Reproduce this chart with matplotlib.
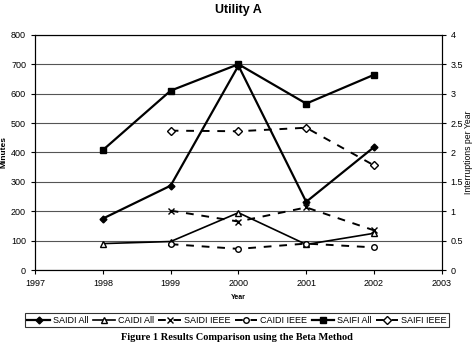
import matplotlib
matplotlib.use('Agg')
import matplotlib.pyplot as plt

plt.rcParams['font.family'] = ['Liberation Sans', 'DejaVu Sans']

years = [1998, 1999, 2000, 2001, 2002]
years_ieee = [1999, 2000, 2001, 2002]

saidi_all = [175, 287, 695, 232, 418]
caidi_all = [90, 97, 195, 87, 125]
saidi_ieee = [202, 165, 213, 135]
caidi_ieee = [88, 72, 90, 77]
saifi_all = [2.04, 3.05, 3.5, 2.83, 3.32]
saifi_ieee = [2.37, 2.36, 2.42, 1.78]

fig = plt.figure(figsize=(4.74, 3.48), dpi=100)
ax = fig.add_axes([0.074, 0.224, 0.858, 0.676])
ax2 = ax.twinx()

l1, = ax.plot(years, saidi_all, '-', color='black', lw=1.6, marker='D', ms=3.5, mfc='black')
l2, = ax.plot(years, caidi_all, '-', color='black', lw=1.2, marker='^', ms=4, mfc='white')
l3, = ax.plot(years_ieee, saidi_ieee, '--', color='black', lw=1.4, marker='x', ms=5, dashes=(4, 4))
l4, = ax.plot(years_ieee, caidi_ieee, '--', color='black', lw=1.4, marker='o', ms=4, mfc='white', dashes=(4, 4))
l5, = ax2.plot(years, saifi_all, '-', color='black', lw=1.6, marker='s', ms=5, mfc='black')
l6, = ax2.plot(years_ieee, saifi_ieee, '--', color='black', lw=1.4, marker='D', ms=4, mfc='white', dashes=(4, 4))

ax.set_xlim(1997, 2003)
ax.set_ylim(0, 800)
ax.set_yticks(range(0, 801, 100))
ax.set_xticks(range(1997, 2004))
ax2.set_ylim(0, 4)
ax2.set_yticks([0, 0.5, 1, 1.5, 2, 2.5, 3, 3.5, 4])
ax2.set_yticklabels(['0', '0.5', '1', '1.5', '2', '2.5', '3', '3.5', '4'])

ax.grid(axis='y', color='#555555', lw=0.8)
ax.set_axisbelow(True)
for a in (ax, ax2):
    a.tick_params(labelsize=6.5, length=3, width=0.8)
    for s in a.spines.values():
        s.set_linewidth(0.8)

ax.set_title('Utility A', fontsize=9, fontweight='bold', pad=16)
ax.set_xlabel('Year', fontsize=5, fontweight='bold')
ax.set_ylabel('Minutes', fontsize=6, fontweight='bold')
ax.yaxis.set_label_coords(-0.068, 0.5)
ax2.set_ylabel('Interruptions per Year', fontsize=6.2)
ax2.yaxis.set_label_coords(1.054, 0.5)

leg = fig.legend([l1, l2, l3, l4, l5, l6],
                 ['SAIDI All', 'CAIDI All', 'SAIDI IEEE', 'CAIDI IEEE', 'SAIFI All', 'SAIFI IEEE'],
                 loc='center', bbox_to_anchor=(0.5, 0.08), ncol=6, fontsize=6.5,
                 frameon=True, fancybox=False, edgecolor='black', handlelength=2.5,
                 handletextpad=0.3, columnspacing=0.5, borderpad=0.3)
leg.get_frame().set_linewidth(0.8)

fig.text(0.5, 0.022, 'Figure 1 Results Comparison using the Beta Method',
         ha='center', fontsize=7.5, fontweight='bold', family=['Liberation Serif', 'DejaVu Serif'])

fig.savefig('out.png', dpi=100)
